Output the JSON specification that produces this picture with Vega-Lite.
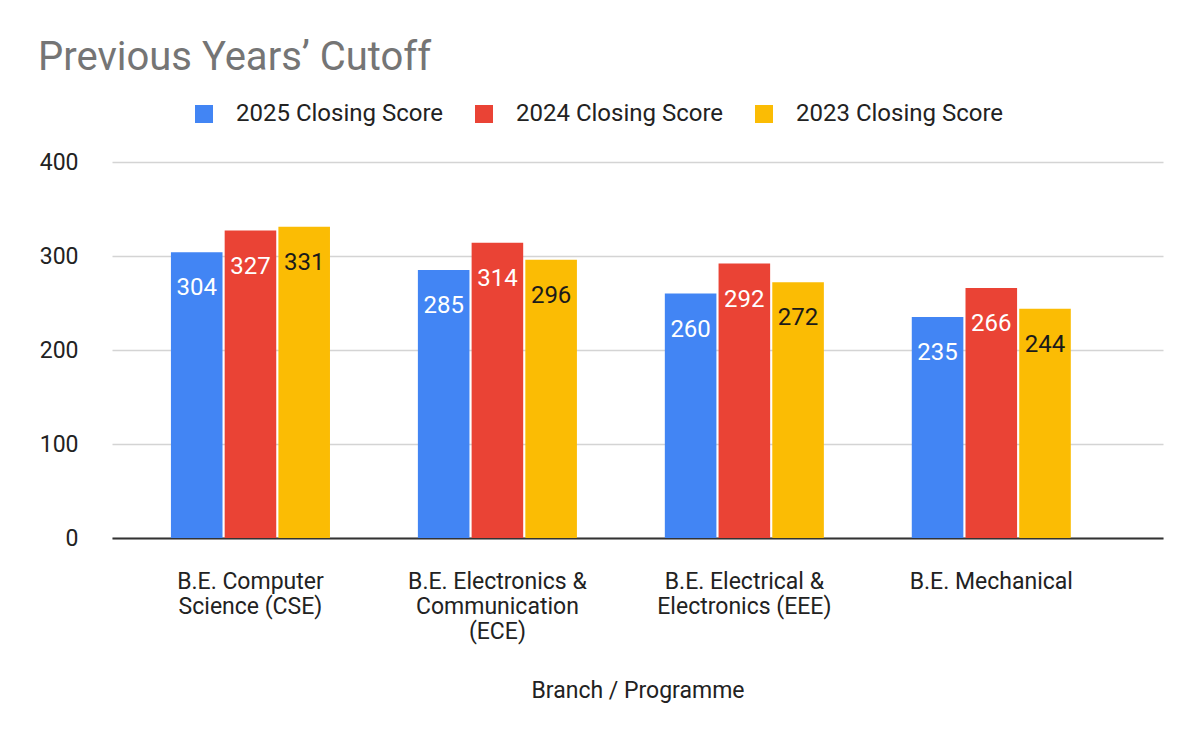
{
  "$schema": "https://vega.github.io/schema/vega-lite/v6.json",
  "width": 1051,
  "height": 376,
  "autosize": {"type": "none"},
  "padding": {"left": 112, "top": 162, "right": 37, "bottom": 202},
  "background": "white",
  "config": {"view": {"stroke": null}},
  "title": {
    "text": "Previous Years’ Cutoff",
    "anchor": "start",
    "frame": "group",
    "dx": -74,
    "offset": 24,
    "fontSize": 40,
    "font": "Roboto",
    "fontWeight": "normal",
    "color": "#757575"
  },
  "data": {
    "values": [
      {"branch": "B.E. Computer Science (CSE)", "series": "2025 Closing Score", "score": 304},
      {"branch": "B.E. Computer Science (CSE)", "series": "2024 Closing Score", "score": 327},
      {"branch": "B.E. Computer Science (CSE)", "series": "2023 Closing Score", "score": 331},
      {"branch": "B.E. Electronics & Communication (ECE)", "series": "2025 Closing Score", "score": 285},
      {"branch": "B.E. Electronics & Communication (ECE)", "series": "2024 Closing Score", "score": 314},
      {"branch": "B.E. Electronics & Communication (ECE)", "series": "2023 Closing Score", "score": 296},
      {"branch": "B.E. Electrical & Electronics (EEE)", "series": "2025 Closing Score", "score": 260},
      {"branch": "B.E. Electrical & Electronics (EEE)", "series": "2024 Closing Score", "score": 292},
      {"branch": "B.E. Electrical & Electronics (EEE)", "series": "2023 Closing Score", "score": 272},
      {"branch": "B.E. Mechanical", "series": "2025 Closing Score", "score": 235},
      {"branch": "B.E. Mechanical", "series": "2024 Closing Score", "score": 266},
      {"branch": "B.E. Mechanical", "series": "2023 Closing Score", "score": 244}
    ]
  },
  "encoding": {
    "x": {
      "field": "branch",
      "type": "nominal",
      "sort": ["B.E. Computer Science (CSE)", "B.E. Electronics & Communication (ECE)", "B.E. Electrical & Electronics (EEE)", "B.E. Mechanical"],
      "scale": {"paddingInner": 0.356, "paddingOuter": 0.306, "align": 0.39},
      "axis": {
        "title": "Branch / Programme",
        "labelAngle": 0,
        "labelFont": "Roboto",
        "labelFontSize": 23,
        "labelLineHeight": 25,
        "labelColor": "#222222",
        "labelPadding": 32,
        "labelBaseline": "top",
        "labelLimit": 0,
        "ticks": false,
        "domainColor": "#333333",
        "domainWidth": 2,
        "titleFont": "Roboto",
        "titleFontSize": 23,
        "titleFontWeight": "normal",
        "titleColor": "#222222",
        "titlePadding": 36,
        "labelExpr": "datum.label == 'B.E. Computer Science (CSE)' ? ['B.E. Computer', 'Science (CSE)'] : datum.label == 'B.E. Electronics & Communication (ECE)' ? ['B.E. Electronics &', 'Communication', '(ECE)'] : datum.label == 'B.E. Electrical & Electronics (EEE)' ? ['B.E. Electrical &', 'Electronics (EEE)'] : datum.label"
      }
    },
    "xOffset": {
      "field": "series",
      "type": "nominal",
      "sort": ["2025 Closing Score", "2024 Closing Score", "2023 Closing Score"],
      "scale": {"paddingInner": 0.04}
    },
    "y": {
      "field": "score",
      "type": "quantitative",
      "scale": {"domain": [0, 400], "nice": false},
      "axis": {
        "title": null,
        "values": [0, 100, 200, 300, 400],
        "domain": false,
        "ticks": false,
        "labelPadding": 34,
        "labelFont": "Roboto",
        "labelFontSize": 23,
        "labelColor": "#222222",
        "gridColor": "#d4d4d4",
        "gridWidth": 1.5
      }
    }
  },
  "layer": [
    {
      "mark": {"type": "bar"},
      "encoding": {
        "color": {
          "field": "series",
          "type": "nominal",
          "sort": ["2025 Closing Score", "2024 Closing Score", "2023 Closing Score"],
          "scale": {
            "domain": ["2025 Closing Score", "2024 Closing Score", "2023 Closing Score"],
            "range": ["#4285F4", "#EA4335", "#FBBC04"]
          },
          "legend": {
            "title": null,
            "orient": "none",
            "direction": "horizontal",
            "legendX": 80,
            "legendY": -60,
            "symbolType": "square",
            "symbolSize": 324,
            "symbolStrokeWidth": 0,
            "labelFont": "Roboto",
            "labelFontSize": 24,
            "labelColor": "#222222",
            "labelLimit": 0,
            "labelOffset": 20,
            "columnPadding": 28
          }
        }
      }
    },
    {
      "mark": {"type": "text", "baseline": "middle", "dy": 36, "font": "Roboto", "fontSize": 24},
      "encoding": {
        "text": {"field": "score", "type": "quantitative"},
        "color": {
          "condition": {"test": "datum.series == '2023 Closing Score'", "value": "#1a1a1a"},
          "value": "#ffffff"
        }
      }
    }
  ]
}
